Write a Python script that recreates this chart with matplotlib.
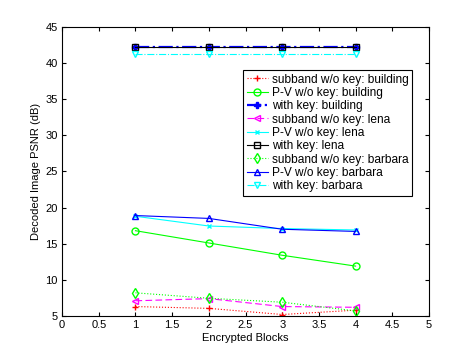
import matplotlib
matplotlib.use('Agg')
import matplotlib.pyplot as plt

plt.rcParams['font.family'] = ['Liberation Sans', 'DejaVu Sans']

blocks = [1, 2, 3, 4]

subband_building = [6.3, 6.05, 5.2, 5.8]
pv_building = [16.8, 15.1, 13.4, 11.9]
key_building = [42.2, 42.2, 42.2, 42.2]
subband_lena = [7.1, 7.4, 6.3, 6.2]
pv_lena = [18.8, 17.45, 17.1, 16.9]
key_lena = [42.2, 42.2, 42.2, 42.2]
subband_barbara = [8.2, 7.45, 6.9, 5.7]
pv_barbara = [18.9, 18.5, 17.0, 16.7]
key_barbara = [41.2, 41.2, 41.2, 41.2]

labels = ['subband w/o key: building', 'P-V w/o key: building', 'with key: building',
          'subband w/o key: lena', 'P-V w/o key: lena', 'with key: lena',
          'subband w/o key: barbara', 'P-V w/o key: barbara', 'with key: barbara']

fig = plt.figure(figsize=(4.74, 3.55), dpi=100)
ax = fig.add_axes([0.131, 0.110, 0.774, 0.814])

ms = 5
ax.plot(blocks, subband_building, color='#ff0000', ls=':', marker='+', ms=ms, lw=0.8, label=labels[0])
ax.plot(blocks, pv_building, color='#00ff00', ls='-', marker='o', ms=ms, mfc='none', lw=0.8, label=labels[1])
ax.plot(blocks, key_building, color='#0000ff', ls='-.', marker='P', ms=4.5, lw=1.6, label=labels[2])
ax.plot(blocks, subband_lena, color='#ff00ff', ls='--', dashes=(6, 3), marker='<', ms=ms, mfc='none', lw=0.8, label=labels[3])
ax.plot(blocks, pv_lena, color='#00ffff', ls='-', marker='x', ms=3.5, lw=0.8, label=labels[4])
ax.plot(blocks, key_lena, color='#000000', ls='-', marker='s', ms=ms, mfc='none', lw=0.8, label=labels[5])
ax.plot(blocks, subband_barbara, color='#00ff00', ls=':', marker='d', ms=ms, mfc='none', lw=0.8, label=labels[6])
ax.plot(blocks, pv_barbara, color='#0000ff', ls='-', marker='^', ms=ms, mfc='none', lw=0.8, label=labels[7])
ax.plot(blocks, key_barbara, color='#00ffff', ls='-.', marker='v', ms=ms, mfc='none', lw=0.8, label=labels[8])

ax.set_xlim(0, 5)
ax.set_ylim(5, 45)
ax.set_xticks([0, 0.5, 1, 1.5, 2, 2.5, 3, 3.5, 4, 4.5, 5])
ax.set_xticklabels(['0', '0.5', '1', '1.5', '2', '2.5', '3', '3.5', '4', '4.5', '5'])
ax.set_yticks(range(5, 50, 5))
ax.tick_params(direction='in', top=True, right=True, labelsize=8, length=3, width=0.8, pad=3)
for s in ax.spines.values():
    s.set_linewidth(0.8)

ax.set_xlabel('Encrypted Blocks', fontsize=8, labelpad=2)
ax.set_ylabel('Decoded Image PSNR (dB)', fontsize=8, labelpad=3)

leg = ax.legend(loc='upper right', bbox_to_anchor=(0.954, 0.851), fontsize=8.6, handlelength=1.75,
                handletextpad=0.35, labelspacing=0.11, borderpad=0.3, borderaxespad=0,
                fancybox=False, framealpha=1, edgecolor='black')
leg.get_frame().set_linewidth(0.8)

fig.savefig('out.png', dpi=100)
